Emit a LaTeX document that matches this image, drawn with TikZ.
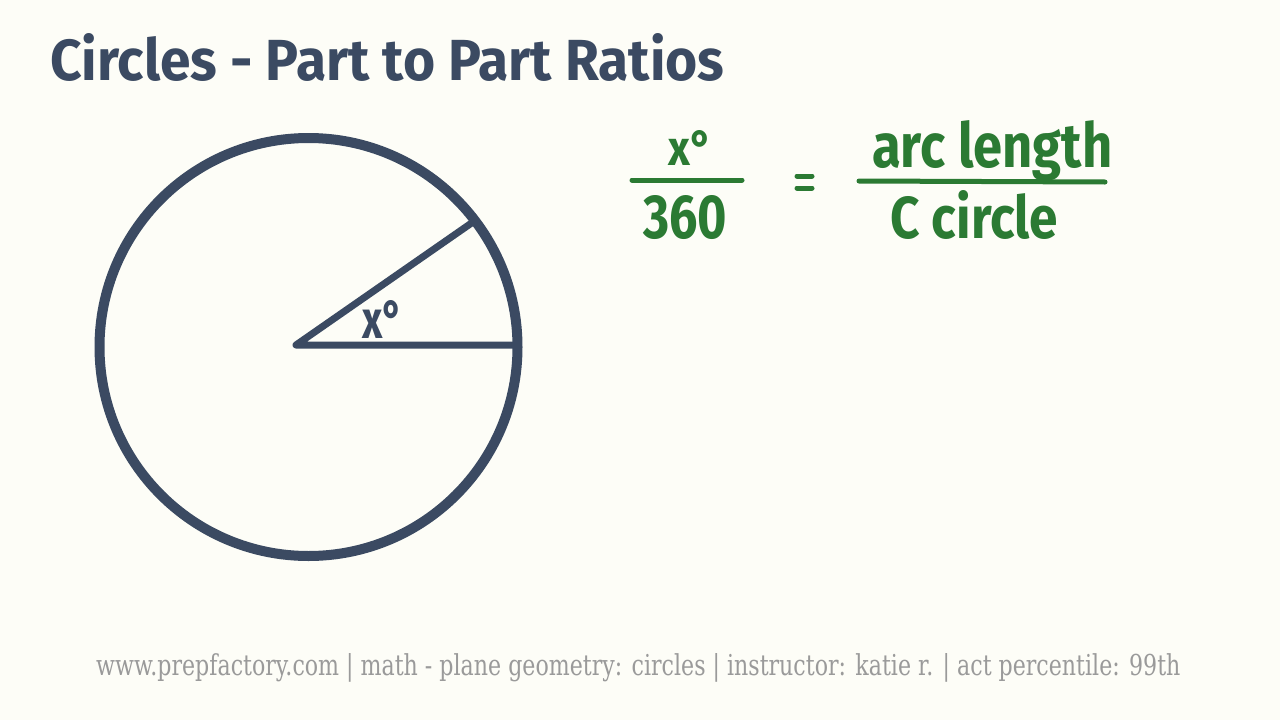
\documentclass[tikz,border=0pt]{standalone}
\usepackage{fontspec}
\setsansfont{Fira Sans}
\newfontfamily\footfont{DejaVu Serif}
\usepackage{graphicx}
\definecolor{bgc}{HTML}{FDFDF7}
\definecolor{navy}{HTML}{3B4A62}
\definecolor{grn}{HTML}{2B7A33}
\definecolor{foot}{HTML}{9A9A9A}
\tikzset{
  hand/.style={inner sep=0pt, anchor=base west, font=\sffamily\bfseries},
  navytxt/.style={hand, text=navy},
  grntxt/.style={hand, text=grn},
  barline/.style={draw=grn, line width=5pt, line cap=round},
  spoke/.style={draw=navy, line width=7pt, line cap=round, line join=round},
}
\begin{document}
\begin{tikzpicture}[x=1pt,y=-1pt]
\fill[bgc] (0,0) rectangle (1280,720);
\useasboundingbox (0,0) rectangle (1280,720);
% title
\node[navytxt] (title) at (50,80) {\resizebox{674pt}{47pt}{Circles - Part to Part Ratios}};
% circle
\node[draw=navy, line width=10pt, circle, minimum size=418pt, inner sep=0pt] (circ) at (308.5,347) {};
\coordinate (v) at (296,345);
\coordinate (e1) at (518,345);
\coordinate (e2) at (473,222);
\draw[spoke] (e2) -- (v) -- (e1);
\node[navytxt] (ang) at (362,338) {\resizebox{41pt}{38pt}{x°}};
% formula
\node[grntxt] (num1) at (668,165) {\resizebox{44pt}{35pt}{x°}};
\coordinate (b1a) at (632,180);
\coordinate (b1b) at (742,180);
\draw[barline] (b1a) -- (b1b);
\node[grntxt] (den1) at (643,238) {\resizebox{84pt}{43pt}{360}};
\coordinate (q1a) at (797,176);
\coordinate (q1b) at (812,176);
\coordinate (q2a) at (797,188);
\coordinate (q2b) at (812,188);
\draw[barline] (q1a) -- (q1b);
\draw[barline] (q2a) -- (q2b);
\node[grntxt] (num2) at (872,167) {\resizebox{240pt}{47pt}{arc length}};
\coordinate (b2a) at (859,181);
\coordinate (b2b) at (1105,182);
\draw[barline] (b2a) -- (b2b);
\node[grntxt] (den2) at (890,238) {\resizebox{168pt}{48pt}{C circle}};
% footer
\node[inner sep=0pt, anchor=base west, text=foot] (footer) at (96,675) {\resizebox{1084pt}{22pt}{\footfont www.prepfactory.com | math - plane geometry: circles | instructor: katie r. | act percentile: 99th}};
\end{tikzpicture}
\end{document}
